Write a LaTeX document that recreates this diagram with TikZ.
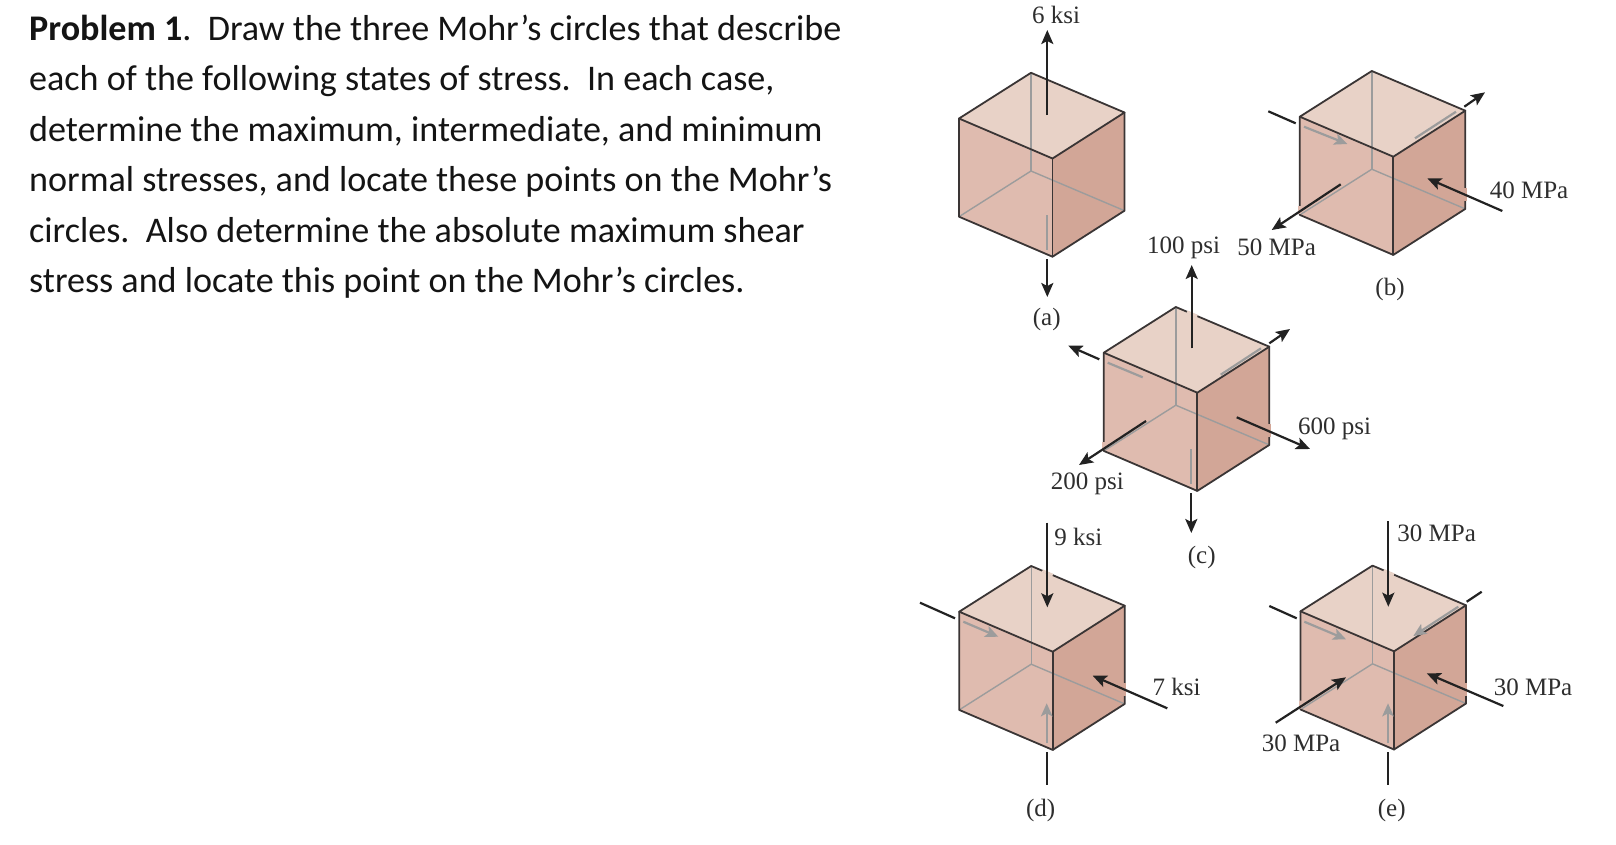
\documentclass[tikz,border=0pt]{standalone}
\usepackage{fontspec}
\setmainfont{Liberation Serif}
\newfontfamily\bodyfont{Carlito}
\usetikzlibrary{arrows.meta,calc}
\definecolor{topface}{HTML}{E8D2C7}
\definecolor{leftface}{HTML}{DFBBAF}
\definecolor{rightface}{HTML}{D2A697}
\definecolor{edgeink}{HTML}{3A3535}
\definecolor{ghost}{HTML}{9C9C9C}
\definecolor{arrowink}{HTML}{222222}
\tikzset{
  x=1pt,y=-1pt,
  edgeline/.style={draw=edgeink,line width=1.8pt,line join=round,line cap=round},
  hiddenline/.style={draw=ghost,line width=1.4pt},
  gapline/.style={line width=2.8pt},
  force/.style={draw=arrowink,line width=2.2pt,-{Stealth[length=14pt,width=12pt,inset=3pt]}},
  stub/.style={draw=arrowink,line width=2.2pt},
  ghostforce/.style={draw=ghost,line width=2.2pt,-{Stealth[length=13pt,width=11.5pt,inset=3pt]}},
  ghostline/.style={draw=ghost,line width=2.2pt},
  figlabel/.style={font=\fontsize{25}{28}\selectfont,text=black!82,inner sep=0pt},
  bodyline/.style={anchor=base west,font=\bodyfont\fontsize{36.1}{40}\selectfont,text=black!92,inner sep=0pt},
}
% #1 name, #2 x and #3 y of the front top corner
\newcommand\stresscube[3]{%
  \coordinate (#1F) at (#2,#3);
  \coordinate (#1L) at ($(#1F)+(-93.5,-40)$);
  \coordinate (#1R) at ($(#1F)+(72,-46)$);
  \coordinate (#1B) at ($(#1F)+(-21.5,-85.7)$);
  \coordinate (#1FB) at ($(#1F)+(0,98.2)$);
  \coordinate (#1LB) at ($(#1L)+(0,98.2)$);
  \coordinate (#1RB) at ($(#1R)+(0,98.2)$);
  \coordinate (#1BB) at ($(#1B)+(0,98.2)$);
  \fill[leftface] (#1L) -- (#1F) -- (#1FB) -- (#1LB) -- cycle;
  \fill[rightface] (#1F) -- (#1R) -- (#1RB) -- (#1FB) -- cycle;
  \fill[topface] (#1L) -- (#1B) -- (#1R) -- (#1F) -- cycle;
  \draw[hiddenline] (#1B) -- (#1BB);
  \draw[hiddenline] (#1LB) -- (#1BB) -- (#1RB);
  \draw[edgeline] (#1L) -- (#1B) -- (#1R) -- (#1F) -- cycle;
  \draw[edgeline] (#1L) -- (#1LB) -- (#1FB) -- (#1RB) -- (#1R);
  \draw[edgeline] (#1F) -- (#1FB);
}
\newcommand\gaptop[1]{\draw[gapline,draw=topface] ($(#1B)!0.12!(#1R)$) -- ($(#1B)!0.23!(#1R)$);}
\newcommand\gapright[1]{\draw[gapline,draw=rightface] ($(#1R)!0.79!(#1RB)$) -- ($(#1R)!0.92!(#1RB)$);}
\newcommand\gapleft[1]{\draw[gapline,draw=leftface] ($(#1L)!0.91!(#1LB)$) -- ($(#1L)!0.99!(#1LB)$);}
% #1 style, #2 name, #3 start, #4 end
\newcommand\seg[4]{\coordinate (#2s) at (#3); \coordinate (#2e) at (#4); \draw[#1] (#2s) -- (#2e);}
\begin{document}
\begin{tikzpicture}
\useasboundingbox (0,0) rectangle (1616,844);
\fill[white] (0,0) rectangle (1616,844);

% body text
\node[bodyline] (t1) at (29,40) {\textbf{Problem 1}.\ \ Draw the three Mohr’s circles that describe};
\node[bodyline] (t2) at (29,90) {each of the following states of stress.\ \ In each case,};
\node[bodyline] (t3) at (29,141) {determine the maximum, intermediate, and minimum};
\node[bodyline] (t4) at (29,191) {normal stresses, and locate these points on the Mohr’s};
\node[bodyline] (t5) at (29,242) {circles.\ \ Also determine the absolute maximum shear};
\node[bodyline] (t6) at (29,292) {stress and locate this point on the Mohr’s circles.};

% cube (a)
\stresscube{a}{1052.5}{158.5}
\seg{force}{a1}{1047.3,115}{1047.3,30}
\seg{ghostline}{a2}{1047.3,215}{1047.3,250}
\seg{force}{a3}{1047.3,259.3}{1047.3,297}
\node[figlabel] (la) at (1056,14.5) {6 ksi};
\node[figlabel] (capa) at (1046.7,319) {(a)};

% cube (b)
\stresscube{b}{1393.3}{156.7}
\gapright{b}\gapleft{b}
\seg{stub}{b1}{1268.3,111.3}{1295.7,123.3}
\seg{ghostforce}{b2}{1304,126.7}{1347.3,144}
\seg{ghostline}{b3}{1415,138.3}{1456,111.7}
\seg{force}{b4}{1464.3,106.7}{1485,92.3}
\seg{force}{b5}{1340.7,184.3}{1271.7,230}
\seg{force}{b6}{1502.3,211}{1427.3,178.3}
\node[figlabel] (lb1) at (1529,190) {40 MPa};
\node[figlabel] (lb2) at (1276.7,247.5) {50 MPa};
\node[figlabel] (capb) at (1390,289) {(b)};

% cube (c)
\stresscube{c}{1197.3}{392.7}
\gaptop{c}\gapright{c}\gapleft{c}
\seg{force}{c1}{1191.7,348.3}{1191.7,265}
\seg{ghostline}{c2}{1191.3,449.3}{1191.3,484.3}
\seg{force}{c3}{1191.3,493.3}{1191.3,533}
\seg{force}{c4}{1099.3,359.3}{1068.3,345.7}
\seg{ghostline}{c5}{1107.7,362.7}{1142.7,377.3}
\seg{ghostline}{c6}{1220.7,374.7}{1261,348.3}
\seg{force}{c7}{1269.3,343.3}{1290,329}
\seg{force}{c8}{1146,421}{1079,465}
\seg{force}{c9}{1236.7,417.3}{1310,449}
\node[figlabel] (lc1) at (1183.5,248) {100 psi};
\node[figlabel] (lc2) at (1334.5,429) {600 psi};
\node[figlabel] (lc3) at (1087.3,483.5) {200 psi};
\node[figlabel] (capc) at (1201.7,557) {(c)};

% cube (d)
\stresscube{d}{1052.7}{651.7}
\gaptop{d}\gapright{d}
\seg{force}{d1}{1047.3,522.7}{1047.3,607.3}
\seg{stub}{d2}{920,602.7}{955,618.3}
\seg{ghostforce}{d3}{963.3,621.7}{998.3,636.7}
\seg{ghostforce}{d4}{1046.7,743.3}{1046.7,703.3}
\seg{stub}{d5}{1046.7,752.3}{1046.7,785}
\seg{force}{d6}{1167.3,708.3}{1092.7,675.7}
\node[figlabel] (ld1) at (1078.3,536.7) {9 ksi};
\node[figlabel] (ld2) at (1176.5,687) {7 ksi};
\node[figlabel] (capd) at (1040.7,810) {(d)};

% cube (e)
\stresscube{e}{1394}{651.3}
\gaptop{e}\gapright{e}\gapleft{e}
\seg{force}{e1}{1388.3,521}{1388.3,606.7}
\seg{stub}{e2}{1481.7,591.7}{1466.7,601.7}
\seg{ghostforce}{e3}{1458.3,606.7}{1413.3,636}
\seg{stub}{e4}{1269.3,606}{1296.7,618.3}
\seg{ghostforce}{e5}{1304.3,621.7}{1346,639.3}
\seg{force}{e6}{1275.7,722.7}{1346,677.3}
\seg{force}{e7}{1503.3,706}{1426.7,673.3}
\seg{ghostforce}{e8}{1388,743.3}{1388,703.3}
\seg{stub}{e9}{1388,752.3}{1388,785}
\node[figlabel] (le1) at (1436.7,533.3) {30 MPa};
\node[figlabel] (le2) at (1301,743.3) {30 MPa};
\node[figlabel] (le3) at (1533,687) {30 MPa};
\node[figlabel] (cape) at (1391.7,810.5) {(e)};
\end{tikzpicture}
\end{document}
